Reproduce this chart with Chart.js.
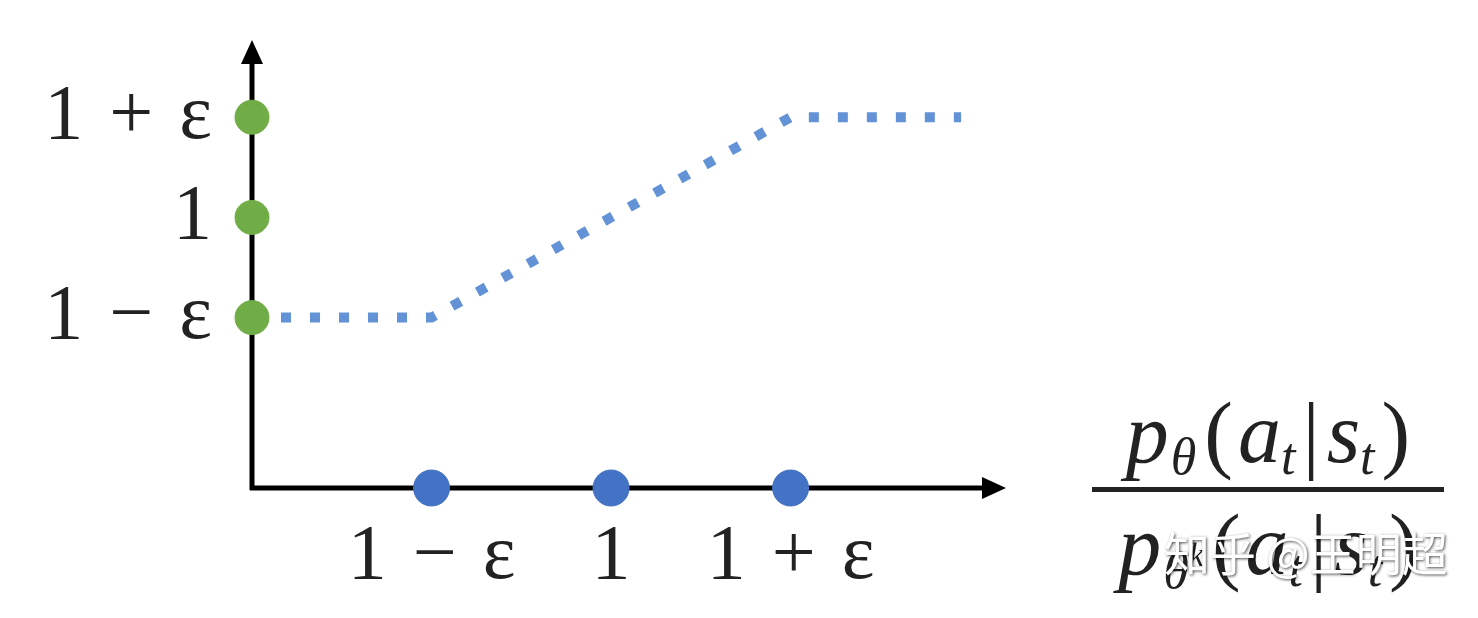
<!DOCTYPE html>
<html>
<head>
<meta charset="utf-8">
<script src="https://cdn.jsdelivr.net/npm/chart.js@4"></script>
<style>
  html, body { margin: 0; padding: 0; background: #fff; }
  #wrap { width: 1478px; height: 618px; }
</style>
</head>
<body>
<div id="wrap"><canvas id="clipChart"></canvas></div>
<script>
// ratio axis (x) and clipped ratio axis (y), epsilon = 0.2
const xTickValues = [0.8, 1.0, 1.2];
const xTickLabels = ['1\u2004−\u2004ε', '1', '1\u2004+\u2004ε'];
const yTickValues = [0.8, 1.0, 1.2];
const yTickLabels = ['1\u2004−\u2004ε', '1', '1\u2004+\u2004ε'];

// clip(ratio, 1 - eps, 1 + eps)
const clipX = [0.6, 0.8, 1.2, 1.39];
const clipY = [0.8, 0.8, 1.2, 1.2];

const axisMin = { x: 0.6, y: 0.46 };
const axisMax = { x: 1.44, y: 1.354 };

const serif = '"Liberation Serif", "DejaVu Serif", serif';

// axes with arrowheads, drawn under the markers
const arrowAxes = {
    id: 'arrowAxes',
    beforeDatasetsDraw(chart) {
        const { ctx, scales: { x, y } } = chart;
        const x0 = x.getPixelForValue(axisMin.x);
        const y0 = y.getPixelForValue(axisMin.y);
        const x1 = x.getPixelForValue(axisMax.x);
        const y1 = y.getPixelForValue(axisMax.y);
        ctx.save();
        ctx.strokeStyle = '#000';
        ctx.fillStyle = '#000';
        ctx.lineWidth = 5;
        ctx.beginPath();
        ctx.moveTo(x0 - 2, y0);
        ctx.lineTo(x1 - 16, y0);
        ctx.moveTo(x0, y0 + 2);
        ctx.lineTo(x0, y1 + 16);
        ctx.stroke();
        ctx.beginPath();
        ctx.moveTo(x1, y0);
        ctx.lineTo(x1 - 24, y0 - 11);
        ctx.lineTo(x1 - 24, y0 + 11);
        ctx.closePath();
        ctx.moveTo(x0, y1);
        ctx.lineTo(x0 - 11, y1 + 24);
        ctx.lineTo(x0 + 11, y1 + 24);
        ctx.closePath();
        ctx.fill();
        ctx.restore();
    }
};

function drawRuns(ctx, runs, cx, baseline) {
    let total = 0;
    runs.forEach(r => {
        ctx.font = (r.italic ? 'italic ' : '') + r.size + 'px ' + serif;
        r.w = ctx.measureText(r.t).width + (r.gap || 0);
        total += r.w;
    });
    let xx = cx - total / 2;
    runs.forEach(r => {
        ctx.font = (r.italic ? 'italic ' : '') + r.size + 'px ' + serif;
        ctx.fillText(r.t, xx, baseline + (r.dy || 0));
        xx += r.w;
    });
    return total;
}

// ratio fraction at the end of the x axis, plus the site watermark
const ratioTitle = {
    id: 'ratioTitle',
    afterDraw(chart) {
        const { ctx, chartArea } = chart;
        const cx = chartArea.right + 262;
        const yAxis = chart.scales.y.getPixelForValue(axisMin.y);
        ctx.save();
        ctx.fillStyle = '#222';
        ctx.textAlign = 'left';
        ctx.textBaseline = 'alphabetic';
        drawRuns(ctx, [
            { t: 'p', size: 86, italic: true, gap: 2 },
            { t: 'θ', size: 52, italic: true, dy: 12, gap: 8 },
            { t: '(', size: 86, gap: 5 },
            { t: 'a', size: 86, italic: true },
            { t: 't', size: 52, italic: true, dy: 12, gap: 7 },
            { t: '|', size: 86, gap: 7 },
            { t: 's', size: 86, italic: true },
            { t: 't', size: 52, italic: true, dy: 12, gap: 7 },
            { t: ')', size: 86 }
        ], cx, yAxis - 26);
        ctx.fillRect(cx - 176, yAxis - 1, 352, 5);
        drawRuns(ctx, [
            { t: 'p', size: 86, italic: true, gap: 2 },
            { t: 'θ', size: 52, italic: true, dy: 14 },
            { t: 'k', size: 34, italic: true, dy: -8, gap: 8 },
            { t: '(', size: 86, gap: 5 },
            { t: 'a', size: 86, italic: true },
            { t: 't', size: 52, italic: true, dy: 12, gap: 7 },
            { t: '|', size: 86, gap: 7 },
            { t: 's', size: 86, italic: true },
            { t: 't', size: 52, italic: true, dy: 12, gap: 7 },
            { t: ')', size: 86 }
        ], cx, yAxis + 86);

        ctx.font = '46px "Noto Sans CJK SC", sans-serif';
        ctx.fillStyle = '#fff';
        ctx.textBaseline = 'middle';
        ctx.shadowColor = 'rgba(0,0,0,0.7)';
        ctx.shadowBlur = 3;
        ctx.shadowOffsetX = 1;
        ctx.shadowOffsetY = 1;
        ctx.fillText('知乎 @王明超', chartArea.right + 158, yAxis + 66);
        ctx.restore();
    }
};

const ctx = document.getElementById('clipChart').getContext('2d');
new Chart(ctx, {
    type: 'scatter',
    data: {
        datasets: [
            {
                label: 'clip bounds',
                data: yTickValues.map(v => ({ x: axisMin.x, y: v })),
                backgroundColor: '#70AD47',
                borderColor: '#70AD47',
                pointRadius: 17,
                pointHoverRadius: 17,
                clip: false
            },
            {
                label: 'ratio',
                data: xTickValues.map(v => ({ x: v, y: axisMin.y })),
                backgroundColor: '#4472C4',
                borderColor: '#4472C4',
                pointRadius: 18,
                pointHoverRadius: 18,
                clip: false
            },
            {
                label: 'clipped ratio',
                data: clipX.map((v, i) => ({ x: v, y: clipY[i] })),
                showLine: true,
                borderColor: '#6393D6',
                borderWidth: 10,
                borderDash: [10, 19],
                borderCapStyle: 'butt',
                pointRadius: 0,
                tension: 0,
                clip: false
            }
        ]
    },
    options: {
        responsive: true,
        maintainAspectRatio: false,
        animation: false,
        events: [],
        layout: {
            padding: { top: 40, right: 472, left: 0, bottom: 0 }
        },
        plugins: {
            legend: { display: false },
            tooltip: { enabled: false }
        },
        scales: {
            x: {
                type: 'linear',
                min: axisMin.x,
                max: axisMax.x,
                grid: { display: false },
                border: { display: false },
                afterBuildTicks: scale => { scale.ticks = xTickValues.map(v => ({ value: v })); },
                afterFit: scale => {
                    scale.height = 130;
                    scale.paddingLeft = 0;
                    scale.paddingRight = 0;
                },
                ticks: {
                    autoSkip: false,
                    maxRotation: 0,
                    padding: 15,
                    color: '#222',
                    font: { family: serif, size: 78 },
                    callback: (v, i) => xTickLabels[i]
                }
            },
            y: {
                type: 'linear',
                min: axisMin.y,
                max: axisMax.y,
                grid: { display: false },
                border: { display: false },
                afterBuildTicks: scale => { scale.ticks = yTickValues.map(v => ({ value: v })); },
                afterFit: scale => {
                    scale.width = 252;
                    scale.paddingTop = 0;
                    scale.paddingBottom = 0;
                },
                ticks: {
                    autoSkip: false,
                    padding: 32,
                    color: '#222',
                    font: { family: serif, size: 78 },
                    callback: (v, i) => yTickLabels[i]
                }
            }
        }
    },
    plugins: [arrowAxes, ratioTitle]
});
</script>
</body>
</html>
